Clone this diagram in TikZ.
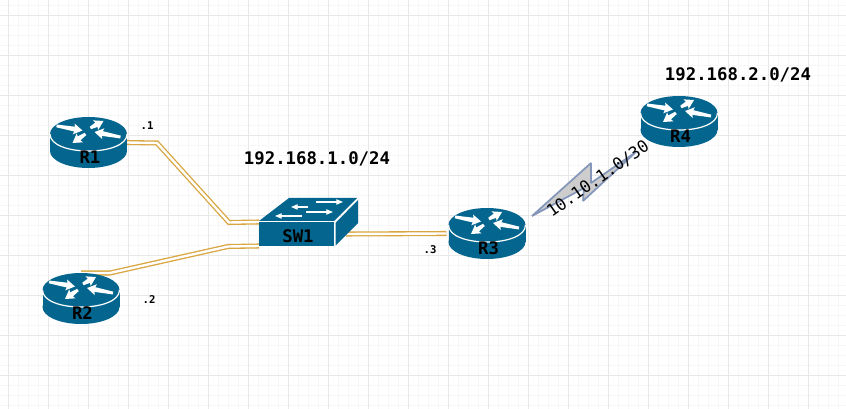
\documentclass[tikz,border=0pt]{standalone}
\usepackage{fontspec}
\setmonofont{DejaVu Sans Mono}
\usepackage{xcolor}
\usetikzlibrary{arrows.meta,positioning,calc}

\definecolor{devblue}{RGB}{4,102,143}
\definecolor{linkgold}{RGB}{217,166,66}
\definecolor{boltedge}{RGB}{132,150,186}
\definecolor{boltfill}{RGB}{205,205,205}

\tikzset{
    devbox/.style={inner sep=0pt, outer sep=0pt},
    devtext/.style={font=\ttfamily\bfseries\fontsize{13}{13}\selectfont},
    nettext/.style={font=\ttfamily\bfseries\fontsize{13}{13}\selectfont},
    slanttext/.style={font=\ttfamily\fontsize{12.5}{13}\selectfont},
    porttext/.style={font=\ttfamily\bfseries\fontsize{8}{8}\selectfont},
    ethlink/.style={draw=linkgold, line width=1pt, double=white, double distance=1.8pt, line join=miter},
    router/.pic={
        \fill[devblue] (-38.5,-8.5) rectangle (38.5,8.5);
        \fill[devblue] (0,8.5) ellipse [x radius=38.5, y radius=17];
        \fill[devblue] (0,-8.5) ellipse [x radius=38.5, y radius=17];
        \draw[white, line width=0.9pt] (-38.5,-8.5) .. controls (-38.5,14.2) and (38.5,14.2) .. (38.5,-8.5);
        % tip, canvas angle and length of each arrow
        \foreach \tx/\ty/\ang/\len in {-6/-12/-10/26.4, 15/-21.5/28/14.8, 6/-10.5/169/26.5, -16/0.5/215/15.8} {
            \fill[white, shift={(\tx,\ty)}, rotate=\ang]
                (0,0) -- (-9,-5.5) -- (-8,-2.4) -- (-\len,-1.4) -- (-\len,1.4) -- (-8,2.4) -- (-9,5.5) -- cycle;
        }
    },
    switchbox/.pic={
        \fill[devblue] (-37.5,-12) rectangle (37.5,12);
        \fill[devblue] (-37.5,-13) -- (-7.5,-36) -- (60.5,-36) -- (37.5,-13) -- cycle;
        \fill[devblue] (39,-11) -- (61.5,-34) -- (61.5,-11) -- (39,11.5) -- cycle;
        \foreach \ax/\bx/\ay in {11.5/-5.5/-27, 19.5/46.5/-32, 9.5/36.5/-22, 5.5/-21.5/-18} {
            \draw[white, line width=0.8pt, -{Triangle[width=4pt,length=5pt]}] (\ax,\ay) -- (\bx,\ay);
        }
    }
}

\begin{document}
\begin{tikzpicture}[x=0.75pt, y=-0.75pt]
    \useasboundingbox (0,0) rectangle (846,409);
    \fill[white] (0,0) rectangle (846,409);

    % Canvas grid
    \foreach \x in {8,18,...,848} {
        \draw[black!3, line width=0.6pt] (\x,0) -- (\x,409);
    }
    \foreach \y in {5,15,...,405} {
        \draw[black!3, line width=0.6pt] (0,\y) -- (846,\y);
    }
    \foreach \x in {8,48,...,848} {
        \draw[black!9, line width=0.6pt] (\x,0) -- (\x,409);
    }
    \foreach \y in {15,55,...,405} {
        \draw[black!9, line width=0.6pt] (0,\y) -- (846,\y);
    }

    % Placeholders for the devices, so that the links can refer to them
    \foreach \name/\x/\y in {R1/88.5/142.5, R2/81/298.5, R3/487/233.5, R4/679/121.5} {
        \node[devbox, minimum width=57.75pt, minimum height=38.25pt] (\name) at (\x,\y) {};
    }
    \node[devbox, minimum width=56.25pt, minimum height=18pt] (SW1) at (296.5,234) {};

    % Links
    \coordinate (r1bend) at (157,143);
    \coordinate (sw1a) at (229,222.5);
    \coordinate (r2bend) at (110,273);
    \coordinate (sw1b) at (228,246.5);
    \draw[ethlink] (R1.east) -- (r1bend) -- (sw1a) -- (SW1.north west);
    \draw[ethlink] (R2.north) -- (r2bend) -- (sw1b) -- (SW1.south west);
    \draw[ethlink] ([xshift=9pt]SW1.east) -- ([xshift=-1.5pt]R3.west);

    % Devices
    \foreach \name/\x/\y in {R1/88.5/142.5, R2/81/298.5, R3/487/233.5, R4/679/121.5} {
        \pic at (\x,\y) {router};
        \node[devtext] at ($(\x,\y)+(1.5,15)$) {\name};
    }
    \pic at (296.5,234) {switchbox};
    \node[devtext] (sw1text) at (298,236) {SW1};

    % Serial link
    \draw[boltedge, line width=1.3pt, fill=boltfill, line join=bevel]
        (532,216) -- (591,163) -- (591,183) -- (636,152) -- (583,201) -- (584,188) -- cycle;

    % Addresses
    \node[nettext] (net1) at (317,159) {192.168.1.0/24};
    \node[nettext] (net2) at (738,75) {192.168.2.0/24};
    \node[slanttext, rotate=35] (net3) at (598,179) {10.10.1.0/30};
    \node[porttext] (port1) at (147,126) {.1};
    \node[porttext] (port2) at (149,300) {.2};
    \node[porttext] (port3) at (430,250) {.3};
\end{tikzpicture}
\end{document}
